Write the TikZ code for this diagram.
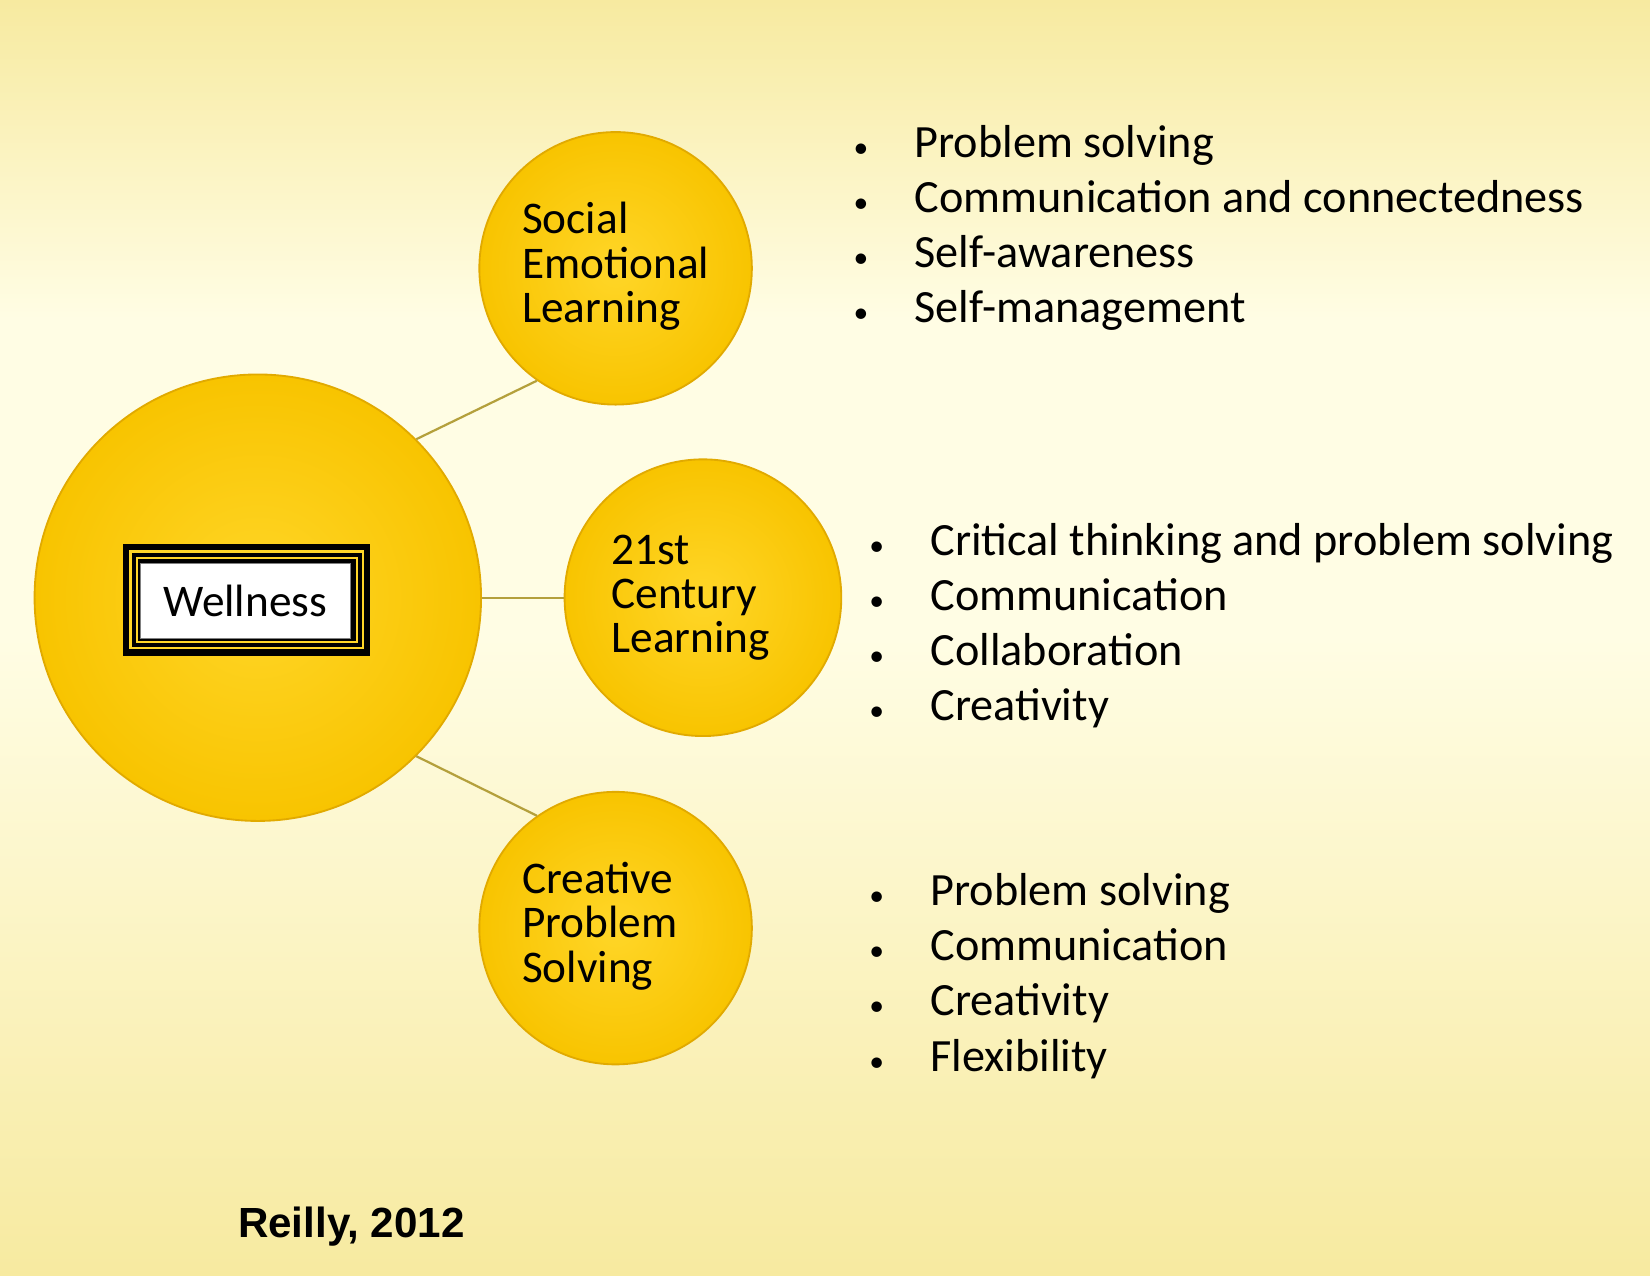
\documentclass[tikz,border=0pt]{standalone}
\usepackage{fontspec}
\setmainfont{Carlito}
\newfontfamily\arialb{Liberation Sans}
\definecolor{bgA}{RGB}{247,234,160}
\definecolor{bgB}{RGB}{255,253,228}
\definecolor{gold}{RGB}{248,196,0}
\definecolor{goldL}{RGB}{255,214,40}
\definecolor{goldD}{RGB}{225,170,0}
\definecolor{lineC}{RGB}{180,160,60}
\newcommand{\bl}{\makebox[14pt][l]{\fontsize{16}{16}\selectfont\textbullet}\hspace{19pt}}
\begin{document}
\begin{tikzpicture}[x=0.02cm,y=-0.02cm,
  bub/.style={circle,draw=goldD,line width=1pt,inner sep=0pt,shade,inner color=goldL,outer color=gold},
  lbl/.style={font=\fontsize{24.5}{24}\selectfont,align=left,anchor=west},
  blt/.style={font=\fontsize{25}{29.8}\selectfont,align=left,anchor=north west},
  conn/.style={draw=lineC,line width=1.2pt}]
\useasboundingbox (0,0) rectangle (1568,1212);
\shade[top color=bgA,bottom color=bgB,middle color=bgB] (0,0) rectangle (1568,606);
\shade[top color=bgB,bottom color=bgA] (0,606) rectangle (1568,1212);
\node[bub,minimum size=426*0.5669pt] (w) at (245,568) {};
\node[bub,minimum size=260*0.5669pt] (s) at (585,255) {};
\node[bub,minimum size=264*0.5669pt] (c) at (668,568) {};
\node[bub,minimum size=260*0.5669pt] (p) at (585,882) {};
\draw[conn] (w.45) -- (s.235);
\draw[conn] (w.0) -- (c.180);
\draw[conn] (w.-45) -- (p.125);
\fill[black] (117,517) rectangle (352,623);
\draw[goldL,line width=1.2pt] (124,524) rectangle (345,616);
\draw[goldL,line width=1.2pt] (130,530) rectangle (339,610);
\node[fill=white,draw=gray,minimum width=200*0.5669pt,minimum height=72*0.5669pt,font=\fontsize{24.5}{25}\selectfont] (wl) at (233,571) {Wellness};
\node[lbl] (sl) at (490,253) {Social\\Emotional\\Learning};
\node[lbl] (cl) at (575,568) {21st\\Century\\Learning};
\node[lbl] (pl) at (490,880) {Creative\\Problem\\Solving};
\node[blt] (b1) at (805,113) {\bl Problem solving\\\bl Communication and connectedness\\\bl Self-awareness\\\bl Self-management};
\node[blt] (b2) at (820,491) {\bl Critical thinking and problem solving\\\bl Communication\\\bl Collaboration\\\bl Creativity};
\node[blt] (b3) at (820,824) {\bl Problem solving\\\bl Communication\\\bl Creativity\\\bl Flexibility};
\node[anchor=west,font=\arialb\bfseries\fontsize{22.8}{24}\selectfont] (r) at (220,1166) {Reilly, 2012};
\end{tikzpicture}
\end{document}
